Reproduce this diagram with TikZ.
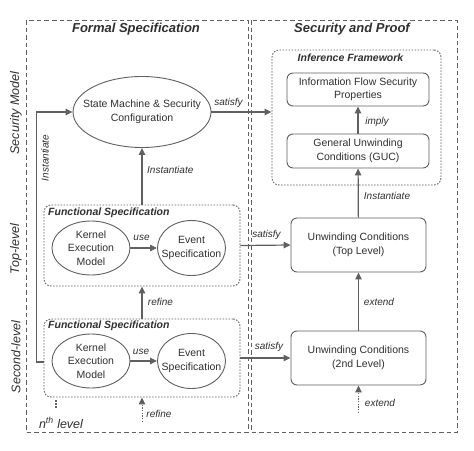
\documentclass[tikz,border=0pt]{standalone}
\usepackage{fontspec}
\setmainfont{Liberation Sans}
\usetikzlibrary{arrows.meta,shapes.geometric}
\definecolor{linegray}{HTML}{606060}
\definecolor{textgray}{HTML}{303030}
\begin{document}
\begin{tikzpicture}[x=1pt,y=-1pt,
    every node/.style={text=textgray, font=\fontsize{10.5}{13.5}\selectfont, inner sep=0pt},
    frame/.style={draw=linegray, line width=0.8pt, dash pattern=on 4.5pt off 3pt},
    group/.style={draw=linegray, line width=0.9pt, dash pattern=on 1.5pt off 1.5pt, rounded corners=7pt},
    ell/.style={draw=linegray, line width=0.9pt, ellipse},
    rbox/.style={draw=linegray, line width=0.9pt, rounded corners=6pt, align=center},
    arr/.style={draw=linegray, line width=1.2pt, -{Triangle[length=7pt,width=6.5pt]}},
    dotarr/.style={arr, line width=1pt, dash pattern=on 1.2pt off 1.5pt},
    lbl/.style={font=\itshape\fontsize{10}{12}\selectfont},
    side/.style={font=\itshape\fontsize{12.5}{14}\selectfont, rotate=90},
    ttl/.style={font=\bfseries\itshape\fontsize{13}{15}\selectfont},
    gttl/.style={font=\bfseries\itshape\fontsize{10.5}{12}\selectfont}]
    \useasboundingbox[fill=white] (0,0) rectangle (474,450);
    \draw[frame] (26,20) rectangle (248,432);
    \draw[frame] (251,20) rectangle (457,432);
    \node[ttl] (tfs) at (136,29) {Formal Specification};
    \node[ttl] (tsp) at (352,29) {Security and Proof};
    \node[side] (lsm) at (16,113) {Security Model};
    \node[side] (ltop) at (16,249) {Top-level};
    \node[side] (lsec) at (16,357) {Second-level};
    \node[font=\itshape\fontsize{12.5}{14}\selectfont] (lnth) at (61,423) {n\textsuperscript{th} level};
    \node[ell, minimum width=138pt, minimum height=71pt, label={[align=center]center:State Machine \& Security\\Configuration}] (sm) at (142,112) {};
    \node[group, minimum width=169pt, minimum height=135pt] (ifw) at (356.5,117.5) {};
    \node[gttl] (tifw) at (350.5,58) {Inference Framework};
    \node[rbox, minimum width=142pt, minimum height=33pt] (ifsp) at (358,89.5) {Information Flow Security\\Properties};
    \node[rbox, minimum width=142pt, minimum height=34pt] (guc) at (358,151) {General Unwinding\\Conditions (GUC)};
    \node[rbox, minimum width=135pt, minimum height=54pt] (utop) at (358.5,245) {Unwinding Conditions\\(Top Level)};
    \node[rbox, minimum width=135pt, minimum height=54pt] (usec) at (358.5,358) {Unwinding Conditions\\(2nd Level)};
    \node[group, minimum width=196pt, minimum height=81pt] (fs1) at (142,245.5) {};
    \node[gttl, anchor=west] (tfs1) at (48,213) {Functional Specification};
    \node[ell, minimum width=78pt, minimum height=54pt, label={[align=center]center:Kernel\\Execution\\Model}] (kem1) at (91,248) {};
    \node[ell, minimum width=68pt, minimum height=55pt, label={[align=center]center:Event\\Specification}] (evs1) at (191.5,248) {};
    \node[group, minimum width=196pt, minimum height=78pt] (fs2) at (142,358) {};
    \node[gttl, anchor=west] (tfs2) at (48,326) {Functional Specification};
    \node[ell, minimum width=78pt, minimum height=54pt, label={[align=center]center:Kernel\\Execution\\Model}] (kem2) at (91,361) {};
    \node[ell, minimum width=68pt, minimum height=55pt, label={[align=center]center:Event\\Specification}] (evs2) at (191.5,361) {};
    \draw[arr] (fs1.north) -- (sm.south);
    \draw[arr] (fs2.north) -- (fs1.south);
    \draw[arr] (kem1) -- (evs1);
    \draw[arr] (kem2) -- (evs2);
    \draw[arr] (fs1.east) -- (utop.west);
    \draw[arr] (fs2.east) -- (usec.west);
    \draw[arr] (sm.east) -- (sm.east -| ifw.west);
    \draw[arr] (guc) -- (ifsp);
    \draw[arr] (utop) -- (guc);
    \draw[arr] (usec) -- (utop);
    \draw[arr] ([yshift=-4pt]fs2.west) -- ++(-7,0) |- (sm.west);
    \coordinate (nref) at (142,422);
    \draw[dotarr] (nref) -- (fs2.south);
    \coordinate (next) at (358.5,413);
    \draw[dotarr] (next) -- (usec.south);
    \draw[linegray, line width=1.3pt, dash pattern=on 1.5pt off 1.5pt] (56,400) -- (56,409);
    \node[lbl] (lsat1) at (228.5,103) {satisfy};
    \node[lbl, anchor=west] (linst1) at (147,170) {Instantiate};
    \node[lbl, rotate=90] (linst2) at (45,158) {Instantiate};
    \node[lbl] (luse1) at (141.5,238) {use};
    \node[lbl] (luse2) at (141,352) {use};
    \node[lbl] (lref1) at (160.5,302) {refine};
    \node[lbl] (lref2) at (159,414) {refine};
    \node[lbl] (lsat2) at (266.5,235) {satisfy};
    \node[lbl] (lsat3) at (269,347) {satisfy};
    \node[lbl] (limp) at (377,122) {imply};
    \node[lbl] (linst3) at (387,196) {Instantiate};
    \node[lbl] (lext1) at (379,302) {extend};
    \node[lbl] (lext2) at (380,403) {extend};
\end{tikzpicture}
\end{document}
